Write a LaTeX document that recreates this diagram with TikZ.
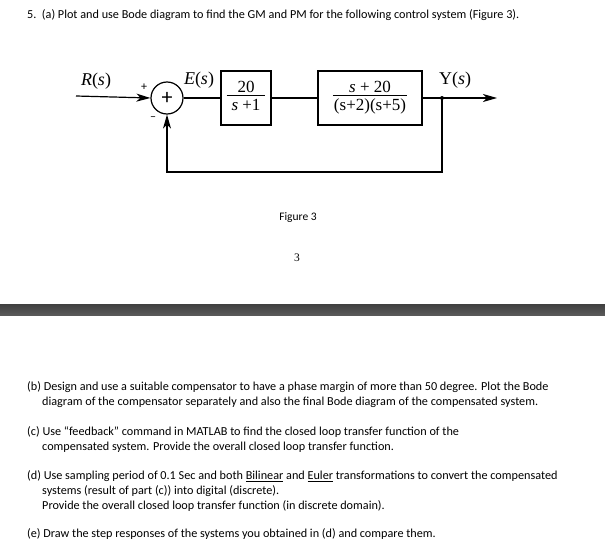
\documentclass[tikz,border=0pt]{standalone}
\usepackage{amsmath}
\usepackage{fontspec}
\setmainfont{Carlito}
\newfontfamily\tnr{Liberation Serif}
\usetikzlibrary{arrows.meta}
\newcommand{\ti}[1]{{\tnr\itshape #1}}
\begin{document}
\begin{tikzpicture}[x=1pt,y=-1pt,
  txt/.style={anchor=west,inner sep=0pt,font=\fontsize{12.2}{14}\selectfont},
  blk/.style={draw,line width=1.2pt,minimum width=#1,minimum height=54pt,inner sep=0pt,font=\tnr\fontsize{17}{19}\selectfont},
  sig/.style={line width=1.2pt},
  arr/.style={sig,-{Stealth[length=14pt,width=8pt,inset=4pt]}},
  dia/.style={inner sep=0pt,font=\tnr\fontsize{18}{20}\selectfont}]
\useasboundingbox (0,0) rectangle (605,543);
\node[txt] (t0) at (27,15) {5.\ \ (a) Plot and use Bode diagram to find the GM and PM for the following control system (Figure 3).};
% block diagram
\coordinate (rin) at (76,96);
\node[draw,circle,line width=1.2pt,minimum size=32pt,inner sep=0pt] (sum) at (167,98) {\fontsize{22}{22}\selectfont +};
\node[blk=50pt] (b1) at (246,98) {\begin{tabular}{@{\hspace{5pt}}c@{\hspace{5pt}}}20\\[-3pt]\hline\rule{0pt}{15pt}\ti{s} +1\end{tabular}};
\node[blk=104pt] (b2) at (370,98) {\begin{tabular}{@{\hspace{1pt}}c@{\hspace{1pt}}}\ti{s} + 20\\[-3pt]\hline\rule{0pt}{15pt}(s+2)(s+5)\end{tabular}};
\coordinate (yo) at (442,98);
\coordinate (out) at (497,98);
\coordinate (fb) at (442,172);
\coordinate (fl) at (167,172);
\draw[arr] (rin) -- (sum.west);
\draw[sig] (sum.east) -- (b1.west);
\draw[sig] (b1.east) -- (b2.west);
\draw[sig] (b2.east) -- (yo);
\draw[arr] (yo) -- (out);
\fill (yo) circle (2pt);
\draw[arr] (yo) -- (fb) -- (fl) -- (sum.south);
\node[dia] (rl) at (96,81) {\ti{R}(\ti{s})};
\node[dia] (el) at (199,80) {\ti{E}(\ti{s})};
\node[dia] (yl) at (455,80) {Y(\ti{s})};
\node[inner sep=0pt,font=\fontsize{12}{12}\selectfont] (pl) at (144,87) {+};
\node[inner sep=0pt,font=\fontsize{12}{12}\selectfont] (ml) at (153,119) {--};
\node[inner sep=0pt,font=\fontsize{11.5}{13}\selectfont] (f3) at (298,218) {Figure 3};
\node[inner sep=0pt,font=\tnr\fontsize{11.5}{13}\selectfont] (n3) at (297,258) {3};
% bar
\shade[top color=black!75,bottom color=black!65] (0,304) rectangle (605,315);
% text
\node[txt] (b) at (27,387) {(b) Design and use a suitable compensator to have a phase margin of more than 50 degree. Plot the Bode};
\node[txt] (b2t) at (42,402) {diagram of the compensator separately and also the final Bode diagram of the compensated system.};
\node[txt] (c) at (27,432) {(c) Use “feedback” command in MATLAB to find the closed loop transfer function of the};
\node[txt] (c2) at (42,447) {compensated system. Provide the overall closed loop transfer function.};
\node[txt] (d) at (27,476) {(d) Use sampling period of 0.1 Sec and both \underline{Bilinear} and \underline{Euler} transformations to convert the compensated};
\node[txt] (d2) at (42,491) {systems (result of part (c)) into digital (discrete).};
\node[txt] (d3) at (42,506) {Provide the overall closed loop transfer function (in discrete domain).};
\node[txt] (e) at (27,534) {(e) Draw the step responses of the systems you obtained in (d) and compare them.};
\end{tikzpicture}
\end{document}
